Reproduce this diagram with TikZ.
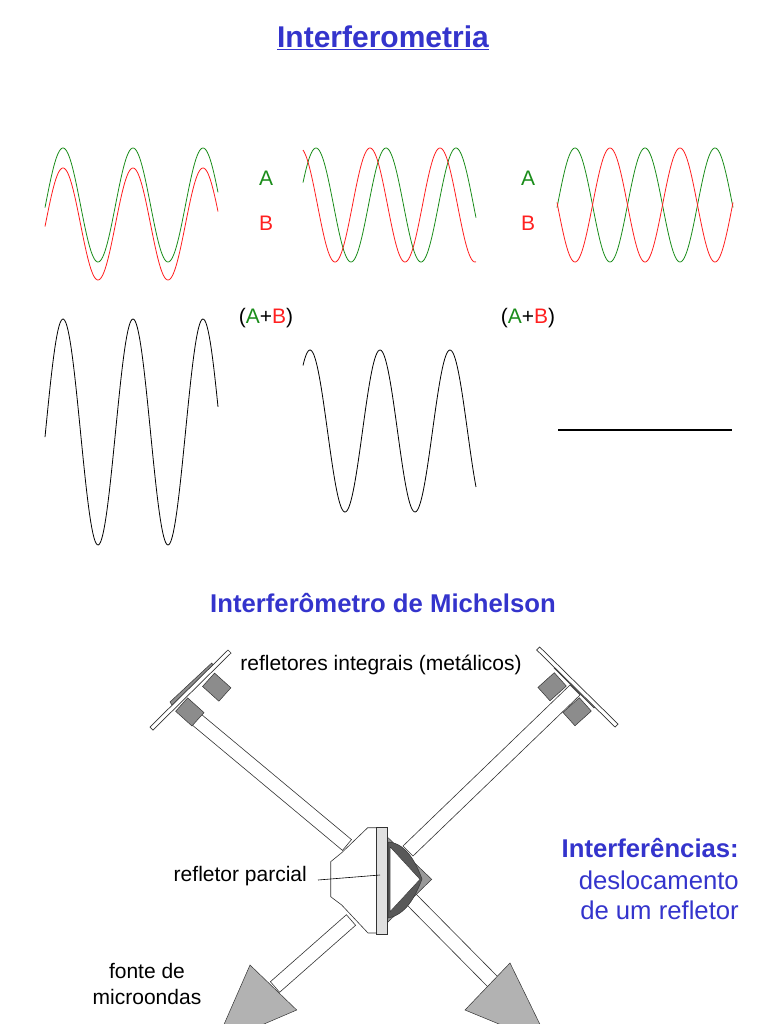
\documentclass[tikz,border=0pt]{standalone}
\usepackage{fontspec}
\setmainfont{Liberation Sans}
\definecolor{wg}{HTML}{1A8C1A}
\definecolor{wr}{HTML}{FF2020}
\definecolor{tb}{HTML}{3434CC}
\begin{document}
\begin{tikzpicture}[x=1pt,y=-1pt,
  wave/.style={line width=0.8pt,samples=160},
  rod/.style={draw=black!80,fill=white,line width=0.6pt},
  block/.style={draw=black!80,fill=black!45,line width=0.5pt},
  lbl/.style={font=\fontsize{21}{26}\selectfont,inner sep=0pt}]
\useasboundingbox (0,0) rectangle (768,1024);
% titles
\node[font=\bfseries\fontsize{30}{34}\selectfont,text=tb,inner sep=0pt] (t1) at (383,38) {\underline{Interferometria}};
% panel 1
\draw[wave,wg] plot[domain=45:218] (\x,{205-57*sin(5.142857*(\x-63)+90)});
\draw[wave,wr] plot[domain=45:218] (\x,{224-56*sin(5.142857*(\x-63)+90)});
\draw[wave,black] plot[domain=45:218] (\x,{432-113*sin(5.142857*(\x-63)+90)});
% panel 2
\draw[wave,wg] plot[domain=303:476] (\x,{205-57*sin(5.142857*(\x-316)+90)});
\draw[wave,wr] plot[domain=303:476] (\x,{205-57*sin(5.142857*(\x-370)+90)});
\draw[wave,black] plot[domain=303:476] (\x,{431-81*sin(5.142857*(\x-310)+90)});
% panel 3
\draw[wave,wg] plot[domain=557:733] (\x,{205-57*sin(5.142857*(\x-575)+90)});
\draw[wave,wr] plot[domain=557:733] (\x,{205+57*sin(5.142857*(\x-575)+90)});
\coordinate (z1) at (558,430); \coordinate (z2) at (732,430);
\draw[line width=1.2pt] (z1) -- (z2);
% labels
\node[lbl,text=wg] (a1) at (266,178) {A};
\node[lbl,text=wr] (b1) at (266,223) {B};
\node[lbl,text=wg] (a2) at (528,178) {A};
\node[lbl,text=wr] (b2) at (528,223) {B};
\node[lbl] (s1) at (266,318) {(\textcolor{wg}{A}+\textcolor{wr}{B})};
\node[lbl] (s2) at (528,318) {(\textcolor{wg}{A}+\textcolor{wr}{B})};
% Michelson
\node[font=\bfseries\fontsize{25.7}{30}\selectfont,text=tb,inner sep=0pt] (t2) at (383,603) {Interferômetro de Michelson};
\node[font=\bfseries\fontsize{25.7}{30}\selectfont,text=tb,inner sep=0pt,anchor=east] (i1) at (739,848) {Interferências:};
\node[font=\fontsize{25.7}{30}\selectfont,text=tb,inner sep=0pt,anchor=east] (i2) at (739,880) {deslocamento};
\node[font=\fontsize{25.7}{30}\selectfont,text=tb,inner sep=0pt,anchor=east] (i3) at (739,910) {de um refletor};
\node[lbl] (r1) at (381,665) {refletores integrais (metálicos)};
\node[lbl,anchor=east] (r2) at (307,876) {refletor parcial};
\node[lbl,align=center] (r3) at (147,984) {fonte de\\microondas};
% rods
\draw[rod] (200.5,713.6) -- (351.5,839.6) -- (342.5,850.4) -- (191.5,724.4) -- cycle;
\draw[rod] (570,685) -- (403,846) -- (413,856) -- (580,695) -- cycle;
\draw[rod] (346.4,914.7) -- (270.4,981.7) -- (279.6,992.3) -- (355.6,925.3) -- cycle;
\draw[rod] (415,893) -- (498,977) -- (488,987) -- (405,903) -- cycle;
% horns
\draw[block,fill=black!30] (250,965) -- (296.7,1010) -- (215,1045) -- cycle;
\draw[block,fill=black!30] (510,963) -- (465,1010) -- (550,1045) -- cycle;
% UL mirror
\draw[block] (170,702) -- (211.7,663) -- (214,666) -- (172,705) -- cycle;
\draw[block,rotate around={-42:(216.7,686.7)}] (206,678) rectangle (228,696);
\draw[block,rotate around={-42:(190,711.7)}] (179,703) rectangle (201,721);
\draw[rod,line width=0.7pt] (228,650) -- (231,653) -- (153,730) -- (150,727) -- cycle;
% UR mirror
\draw[block] (556.7,665) -- (596.7,705) -- (594,708) -- (554,668) -- cycle;
\draw[block,rotate around={42:(551.7,686.7)}] (541,678) rectangle (563,696);
\draw[block,rotate around={42:(576.7,711.7)}] (566,703) rectangle (588,721);
\draw[rod,line width=0.7pt] (536.7,650) -- (539.7,647) -- (618,724) -- (615,727) -- cycle;
% central piece
\draw[rod] (367.7,827.7) -- (377,827.7) -- (377,933) -- (368,933) -- (341.7,905) -- (330.7,896.7) -- (330.7,861.7) -- (341.7,852.7) -- cycle;
\draw[block,fill=black!40] (387,836.7) -- (431.7,879.3) -- (387,923) -- cycle;
\draw[block,fill=black!65] (388,842) .. controls (405,843) and (415,860) .. (422,879) .. controls (415,898) and (405,915) .. (388,918) -- cycle;
\draw[rod,line width=0.5pt] (390,846.7) -- (420,879.3) -- (390,911.7) -- cycle;
\draw[rod,fill=black!12] (376.7,827.7) rectangle (387.3,934.3);
\coordinate (lp) at (380,875);
\draw[line width=0.6pt] (318,880) -- (lp);
\end{tikzpicture}
\end{document}
